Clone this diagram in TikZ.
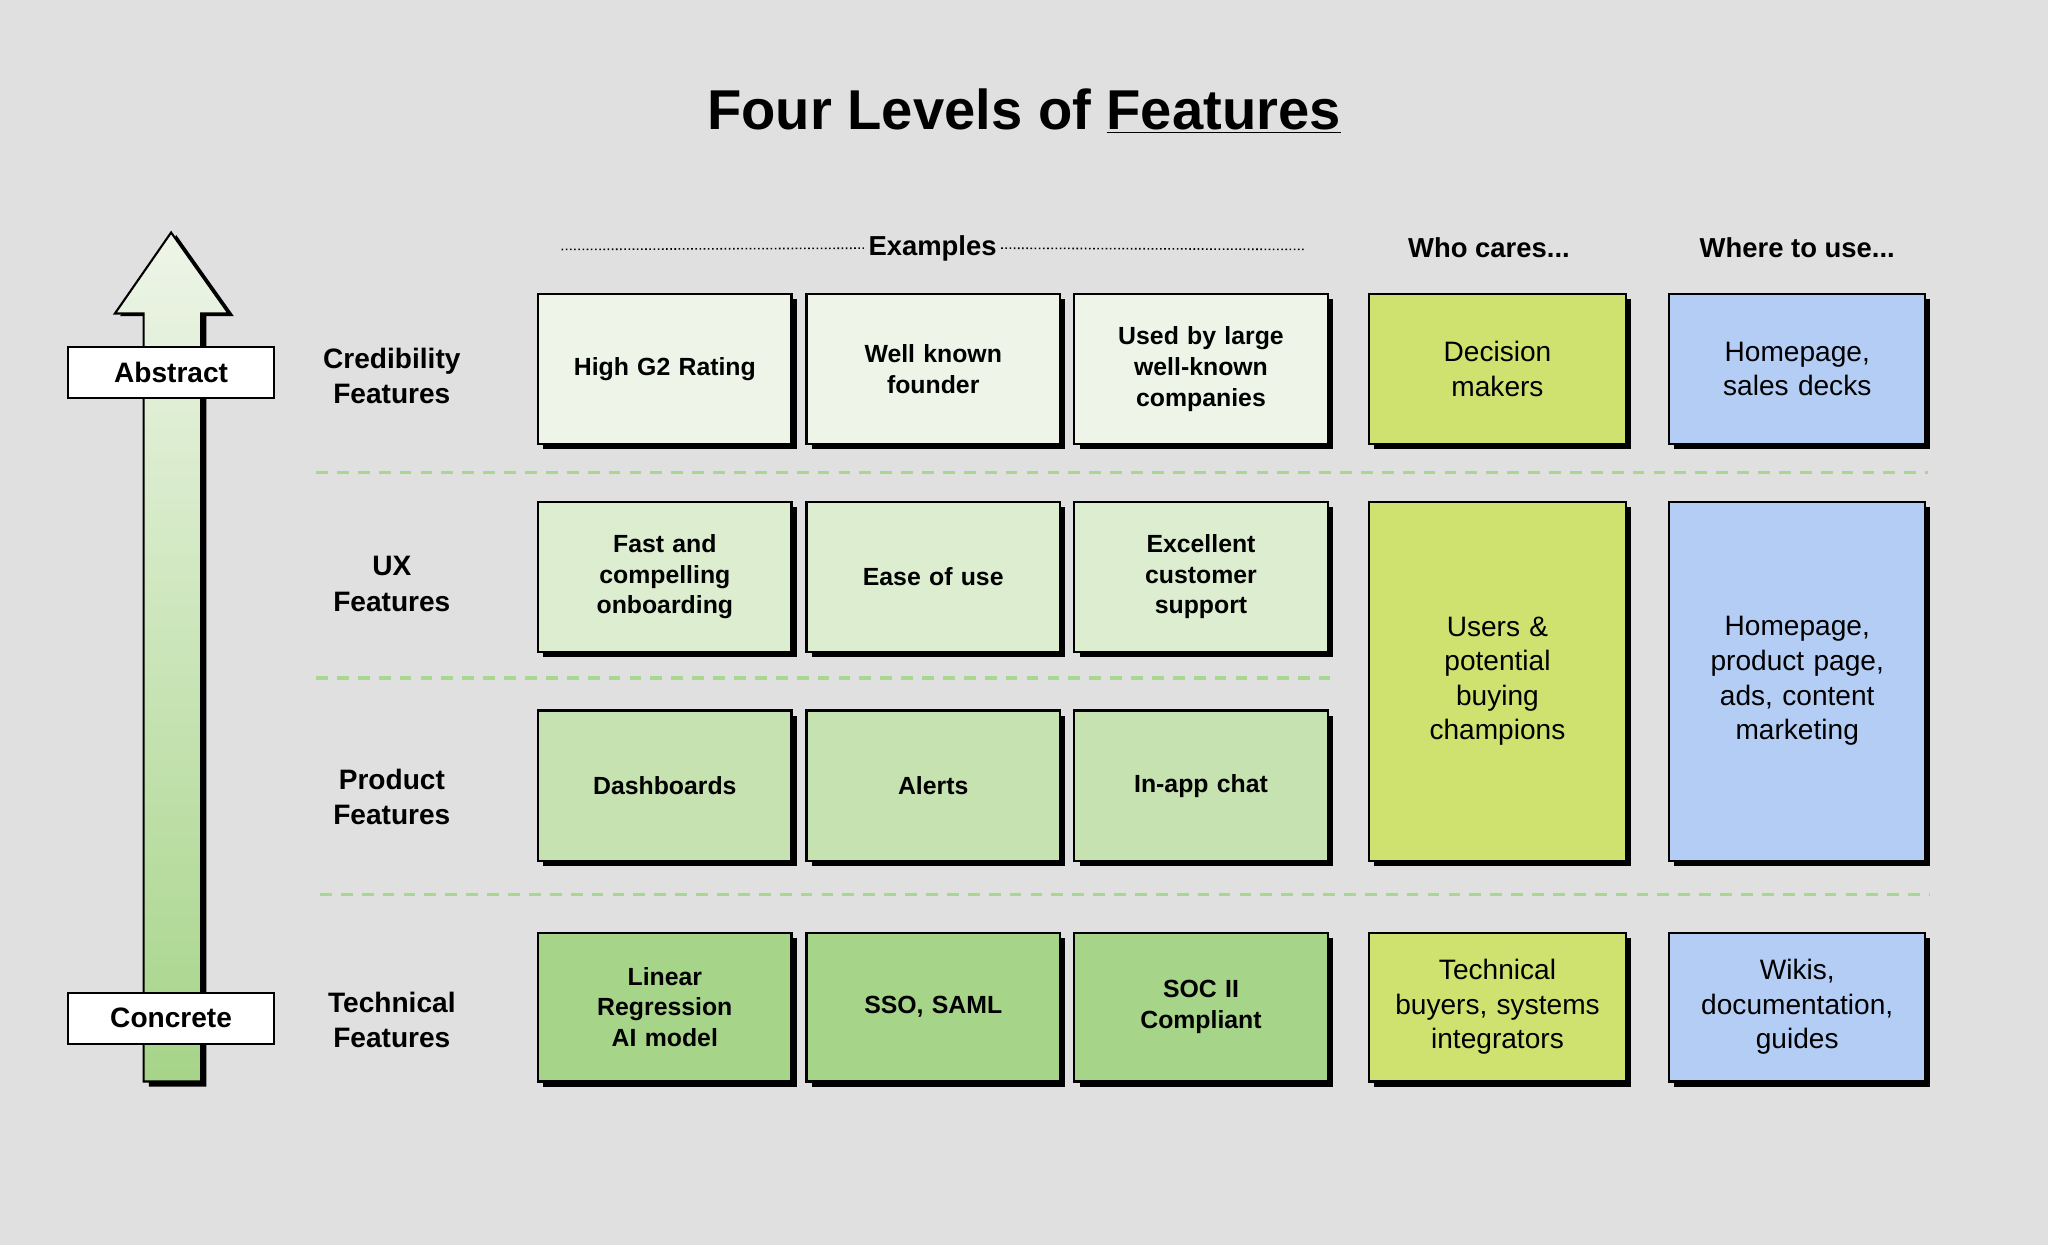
\documentclass[tikz,border=0pt]{standalone}
\usepackage{fontspec}
\setmainfont{Liberation Sans}
\usetikzlibrary{shadows}
\definecolor{bg}{HTML}{E0E0E0}
\definecolor{ca}{HTML}{EEF5E8}
\definecolor{cb}{HTML}{DCEDD0}
\definecolor{cc}{HTML}{C5E2B0}
\definecolor{cd}{HTML}{A6D488}
\definecolor{cy}{HTML}{CFE16F}
\definecolor{cbl}{HTML}{B4CDF5}
\definecolor{sepg}{HTML}{A8D890}
\begin{document}
\begin{tikzpicture}[x=1pt,y=-1pt,
  box/.style={draw=black,line width=1.6pt,minimum width=194pt,minimum height=115pt,align=center,text width=170pt,
    drop shadow={shadow xshift=4pt,shadow yshift=-4pt,fill=black,opacity=1}},
  ex/.style={box,font=\bfseries\fontsize{19}{23.5}\selectfont},
  who/.style={box,minimum width=197pt,font=\fontsize{21.5}{26.5}\selectfont},
  rl/.style={align=center,font=\bfseries\fontsize{21.5}{27}\selectfont},
  hd/.style={font=\bfseries\fontsize{21}{25}\selectfont},
  lab/.style={draw=black,line width=1.6pt,fill=white,minimum width=158pt,minimum height=39pt,font=\bfseries\fontsize{21.5}{25}\selectfont},
  sep/.style={draw=sepg,line width=2.5pt,dash pattern=on 9pt off 7pt}]
\useasboundingbox (0,0) rectangle (1568,953);
\fill[bg] (0,0) rectangle (1568,953);
\node[font=\bfseries\fontsize{43}{50}\selectfont] (title) at (784,85) {Four Levels of \underline{Features}};
% arrow
\fill[black] (135,180) -- (179,242) -- (158,242) -- (158,832) -- (114,832) -- (114,242) -- (92,242) -- cycle;
\shade[top color=ca,bottom color=cd,draw=black,line width=1.6pt] (131,178) -- (175,240) -- (154,240) -- (154,828) -- (110,828) -- (110,240) -- (88,240) -- cycle;
\node[lab] (abs) at (131,285.5) {Abstract};
\node[lab] (con) at (131,779.5) {Concrete};
% headers
\node[hd] (exh) at (714,190) {Examples};
\coordinate (dl) at (430,191); \coordinate (dr) at (1000,191);
\draw[dotted,line width=1.2pt] (dl) -- (exh.west);
\draw[dotted,line width=1.2pt] (exh.east) -- (dr);
\node[hd] (who) at (1140,190) {Who cares...};
\node[hd] (where) at (1376,190) {Where to use...};
% row labels
\node[rl] (r1) at (300,288) {Credibility\\Features};
\node[rl] (r2) at (300,447) {UX\\Features};
\node[rl] (r3) at (300,610) {Product\\Features};
\node[rl] (r4) at (300,781) {Technical\\Features};
% separators
\coordinate (s1a) at (242,362); \coordinate (s1b) at (1476,362);
\coordinate (s2a) at (242,519); \coordinate (s2b) at (1018,519);
\coordinate (s3a) at (245,685); \coordinate (s3b) at (1478,685);
\draw[sep] (s1a) -- (s1b);
\draw[sep] (s2a) -- (s2b);
\draw[sep] (s3a) -- (s3b);
% row 1
\node[ex,fill=ca] (a1) at (509,282.5) {High G2 Rating};
\node[ex,fill=ca] (a2) at (714.5,282.5) {Well known\\founder};
\node[ex,fill=ca] (a3) at (919.5,282.5) {Used by large\\well-known\\companies};
\node[who,fill=cy] (a4) at (1146.5,282.5) {Decision\\makers};
\node[who,fill=cbl,minimum width=196pt] (a5) at (1376,282.5) {Homepage,\\sales decks};
% row 2
\node[ex,fill=cb] (b1) at (509,441.5) {Fast and\\compelling\\onboarding};
\node[ex,fill=cb] (b2) at (714.5,441.5) {Ease of use};
\node[ex,fill=cb] (b3) at (919.5,441.5) {Excellent\\customer\\support};
\node[who,fill=cy,minimum height=275pt] (b4) at (1146.5,521.5) {Users \&\\potential\\buying\\champions};
\node[who,fill=cbl,minimum width=196pt,minimum height=275pt] (b5) at (1376,521.5) {Homepage,\\product page,\\ads, content\\marketing};
% row 3
\node[ex,fill=cc] (c1) at (509,601.5) {Dashboards};
\node[ex,fill=cc] (c2) at (714.5,601.5) {Alerts};
\node[ex,fill=cc] (c3) at (919.5,601.5) {In-app chat};
% row 4
\node[ex,fill=cd,minimum height=114pt] (d1) at (509,771) {Linear\\Regression\\AI model};
\node[ex,fill=cd,minimum height=114pt] (d2) at (714.5,771) {SSO, SAML};
\node[ex,fill=cd,minimum height=114pt] (d3) at (919.5,771) {SOC II\\Compliant};
\node[who,fill=cy,minimum height=114pt] (d4) at (1146.5,771) {Technical\\buyers, systems\\integrators};
\node[who,fill=cbl,minimum width=196pt,minimum height=114pt] (d5) at (1376,771) {Wikis,\\documentation,\\guides};
\end{tikzpicture}
\end{document}
